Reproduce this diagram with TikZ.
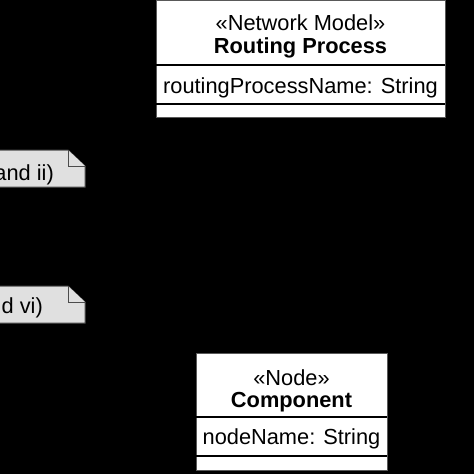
\documentclass[tikz,border=0pt]{standalone}
\usepackage{fontspec}
\setmainfont{Liberation Sans}
\begin{document}
\begin{tikzpicture}[x=1pt,y=-1pt,
  umlbox/.style={draw=black!65,fill=white,line width=1.2pt,inner sep=0pt,anchor=north west},
  divider/.style={draw=black,line width=1.6pt},
  txt/.style={inner sep=0pt,font=\fontsize{21.8}{26}\selectfont,text=black},
  btxt/.style={txt,font=\fontsize{21.8}{26}\selectfont\bfseries},
  notebox/.style={draw=black!70,fill=black!12,line width=1pt},
  notetxt/.style={txt,anchor=east}]
\useasboundingbox[fill=black] (0,0) rectangle (474,474);
% Routing Process class
\node[umlbox,minimum width=289pt,minimum height=117pt] (rp) at (156,0) {};
\draw[divider] (156,65) -- (445,65);
\draw[divider] (156,104) -- (445,104);
\node[txt] (rpst) at (300.5,22.5) {«Network Model»};
\node[btxt] (rpname) at (300.5,48) {Routing Process};
\node[txt] (rpattr) at (300.5,88) {routingProcessName: String};
% Component class
\node[umlbox,minimum width=191pt,minimum height=117pt] (comp) at (196,353) {};
\draw[divider] (196,417) -- (387,417);
\draw[divider] (196,456) -- (387,456);
\node[txt] (compst) at (291.5,377.5) {«Node»};
\node[btxt] (compname) at (291.5,402) {Component};
\node[txt] (compattr) at (291.5,439) {nodeName: String};
% Notes
\draw[notebox] (-5,150) -- (68,150) -- (85,166) -- (85,187) -- (-5,187) -- cycle;
\draw[notebox] (68,150) -- (68,166) -- (85,166);
\node[notetxt] (n1) at (54,175) {and ii)};
\draw[notebox] (-5,286) -- (68,286) -- (85,302) -- (85,323) -- (-5,323) -- cycle;
\draw[notebox] (68,286) -- (68,302) -- (85,302);
\node[notetxt] (n2) at (43,308) {d vi)};
\end{tikzpicture}
\end{document}
